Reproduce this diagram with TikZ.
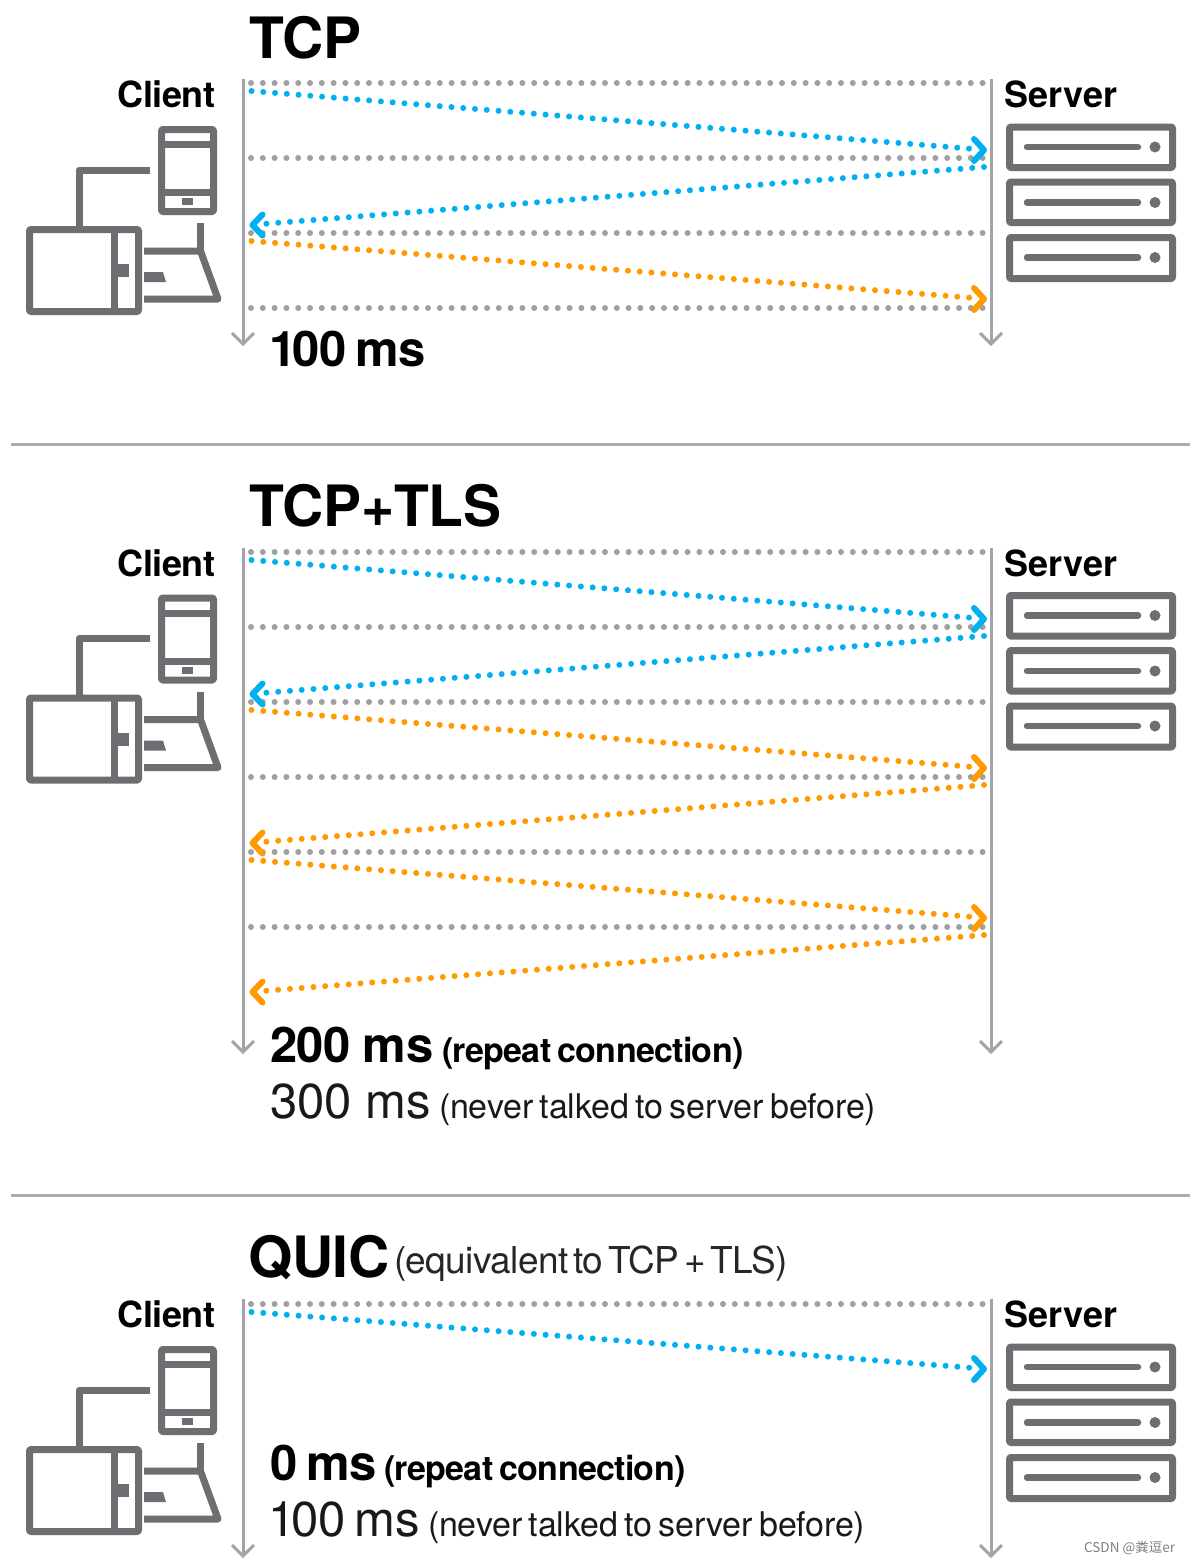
\documentclass[tikz,border=0pt]{standalone}
\usepackage{fontspec}
\setmainfont{TeX Gyre Heros}
\newfontfamily\cjkfont{Noto Sans CJK SC}
\newfontfamily\ftitle[LetterSpace=-0.5]{TeX Gyre Heros}
\newfontfamily\fclient[LetterSpace=-1.5]{TeX Gyre Heros}
\newfontfamily\fserver[LetterSpace=0.8]{TeX Gyre Heros}
\newfontfamily\ftimeb[LetterSpace=-1,WordSpace=0.7]{TeX Gyre Heros}
\newfontfamily\ftimel[LetterSpace=-0.5,WordSpace=0.8]{TeX Gyre Heros}
\newfontfamily\fnoteb[LetterSpace=-2,WordSpace=0.7]{TeX Gyre Heros}
\newfontfamily\fnotel[LetterSpace=-0.5,WordSpace=0.7]{TeX Gyre Heros}
\newfontfamily\fquic[LetterSpace=-1.6,WordSpace=0.5]{TeX Gyre Heros}
\definecolor{icon}{HTML}{6D6E71}
\definecolor{rail}{HTML}{A3A3A8}
\definecolor{dotgrey}{HTML}{A0A0A3}
\definecolor{msgblue}{HTML}{00B0F0}
\definecolor{msgorange}{HTML}{FF9A00}
\definecolor{sep}{HTML}{ABABAE}
\tikzset{
  iconline/.style={draw=icon,line width=7pt,line join=round},
  railline/.style={draw=rail,line width=3pt},
  greydots/.style={draw=dotgrey,line width=6pt,line cap=round,dash pattern=on 0pt off 11.8pt},
  msgdots/.style={line width=6pt,line cap=round,dash pattern=on 0pt off 11.8pt},
  chev/.style={line width=6pt,line cap=round,line join=round},
  lbl/.style={anchor=base west,inner sep=0pt,outer sep=0pt},
  titletext/.style={lbl,font=\fontsize{57}{57}\ftitle\bfseries,text=black},
  endtext/.style={lbl,font=\fontsize{36}{36}\fserver\bfseries,text=black},
  clienttext/.style={lbl,anchor=base east,font=\fontsize{36}{36}\fclient\bfseries,text=black},
  timetext/.style={lbl,font=\fontsize{49}{49}\ftimeb\bfseries,text=black},
  timelight/.style={lbl,font=\fontsize{49}{49}\ftimel,text=black!90},
  notebold/.style={lbl,font=\fontsize{34}{34}\fnoteb\bfseries,text=black},
  notelight/.style={lbl,font=\fontsize{34}{34}\fnotel,text=black!90},
  quicnote/.style={lbl,font=\fontsize{37}{37}\fquic,text=black!85},
}
% one client/server panel; #1 = y shift, #2 = rail end y (before shift), #3 = prefix
\newcommand{\panel}[3]{%
\begin{scope}[yshift=-#1pt]
  \node[clienttext] (#3client) at (215,107.5) {Client};
  \node[endtext] (#3server) at (1004,107.5) {Server};
  % phone
  \draw[iconline,rounded corners=1pt] (161.5,129.5) rectangle (213.5,211.5);
  \draw[iconline] (161.5,144.5) -- (213.5,144.5) (161.5,192.5) -- (213.5,192.5);
  \fill[icon] (182,198) rectangle (193,205);
  % wire
  \draw[iconline] (150,170) -- (79,170) -- (79,228);
  % box
  \draw[iconline,rounded corners=1pt] (29.5,229.5) rectangle (138.5,311.5);
  \draw[iconline] (114.5,229.5) -- (114.5,311.5);
  \fill[icon] (114.5,264) rectangle (128.5,277);
  % laptop
  \draw[iconline] (144,251) -- (200.5,251) -- (218,299) -- (144,299);
  \draw[iconline] (200.5,223) -- (200.5,251);
  \fill[icon] (144,272) -- (163,272) -- (166,282) -- (144,282) -- cycle;
  % server
  \foreach \a/\b/\m in {127/167.5/147,182/222.5/202.5,237.5/278.5/257.5}{
    \draw[iconline,rounded corners=1pt] (1009.5,\a) rectangle (1172.5,\b);
    \draw[draw=icon,line width=6.5pt,line cap=round] (1027,\m) -- (1138,\m);
    \fill[icon] (1155,\m) circle (5.5);
  }
  % rails
  \coordinate (#3la) at (243,79); \coordinate (#3lb) at (243,#2);
  \coordinate (#3ra) at (991,79); \coordinate (#3rb) at (991,#2);
  \draw[railline] (#3la) -- (#3lb);
  \draw[railline] (#3ra) -- (#3rb);
  \draw[railline] ([shift={(-11,-11)}]#3lb) -- (#3lb) -- ([shift={(11,-11)}]#3lb);
  \draw[railline] ([shift={(-11,-11)}]#3rb) -- (#3rb) -- ([shift={(11,-11)}]#3rb);
\end{scope}}
\newcommand{\hdots}[1]{\draw[greydots] (251,#1) -- (983.4,#1);}
\newcommand{\toserver}[3]{% colour, y from, y to
  \draw[msgdots,draw=#1] (251.5,#2) -- (971.5,#3-1.2);
  \draw[chev,draw=#1] (974,#3-11) -- (984,#3) -- (974,#3+11);}
\newcommand{\toclient}[3]{% colour, y from, y to
  \draw[msgdots,draw=#1] (984,#2) -- (265,#3-1.2);
  \draw[chev,draw=#1] (262.5,#3-10.5) -- (252.5,#3) -- (262.5,#3+10.5);}
\begin{document}
\begin{tikzpicture}[x=1pt,y=-1pt]
\useasboundingbox (0,0) rectangle (1190,1564);
\fill[white] (0,0) rectangle (1190,1564);

% ---- TCP
\node[titletext] (t1) at (249,58) {TCP};
\panel{0}{344}{a}
\hdots{83}\hdots{158}\hdots{233}\hdots{308}
\toserver{msgblue}{91}{150}
\toclient{msgblue}{167}{225}
\toserver{msgorange}{241}{299}
\node[timetext] (t1b) at (269,366) {1\kern-4pt 00 ms};

\draw[draw=sep,line width=3pt] (11,444) -- (1190,444);

% ---- TCP+TLS
\node[titletext] (t2) at (249,526) {TCP+TLS};
\panel{468.5}{583.5}{b}
\hdots{552}\hdots{627}\hdots{702}\hdots{777}\hdots{852}\hdots{927}
\toserver{msgblue}{560}{619}
\toclient{msgblue}{636}{694}
\toserver{msgorange}{710}{768}
\toclient{msgorange}{785}{843}
\toserver{msgorange}{860}{918}
\toclient{msgorange}{935}{992}
\node[timetext] (t2b) at (270,1062) {200\kern3pt{} ms};
\node[notebold] (t2c) at (442,1062) {(repeat connection)};
\node[timelight] (t2d) at (270,1118) {300\kern5pt{} ms};
\node[notelight] (t2e) at (439,1118) {(never talked to server before)};

\draw[draw=sep,line width=3pt] (11,1195) -- (1190,1195);

% ---- QUIC
\node[titletext] (t3) at (248,1277) {QUIC};
\node[quicnote] (t3a) at (394,1273) {(equivalent to TCP + TLS)};
\panel{1220}{336}{c}
\hdots{1304}
\toserver{msgblue}{1312}{1369}
\node[timetext] (t3b) at (270,1480) {0 ms};
\node[notebold] (t3c) at (384,1480) {(repeat connection)};
\node[timelight] (t3d) at (268,1536) {1\kern-4pt 00 ms};
\node[notelight] (t3e) at (428,1536) {(never talked to server before)};

\node[lbl,font=\fontsize{13.5}{13.5}\cjkfont,text=black!50,anchor=base east] (wm) at (1175,1552) {CSDN @粪逗er};
\end{tikzpicture}
\end{document}
